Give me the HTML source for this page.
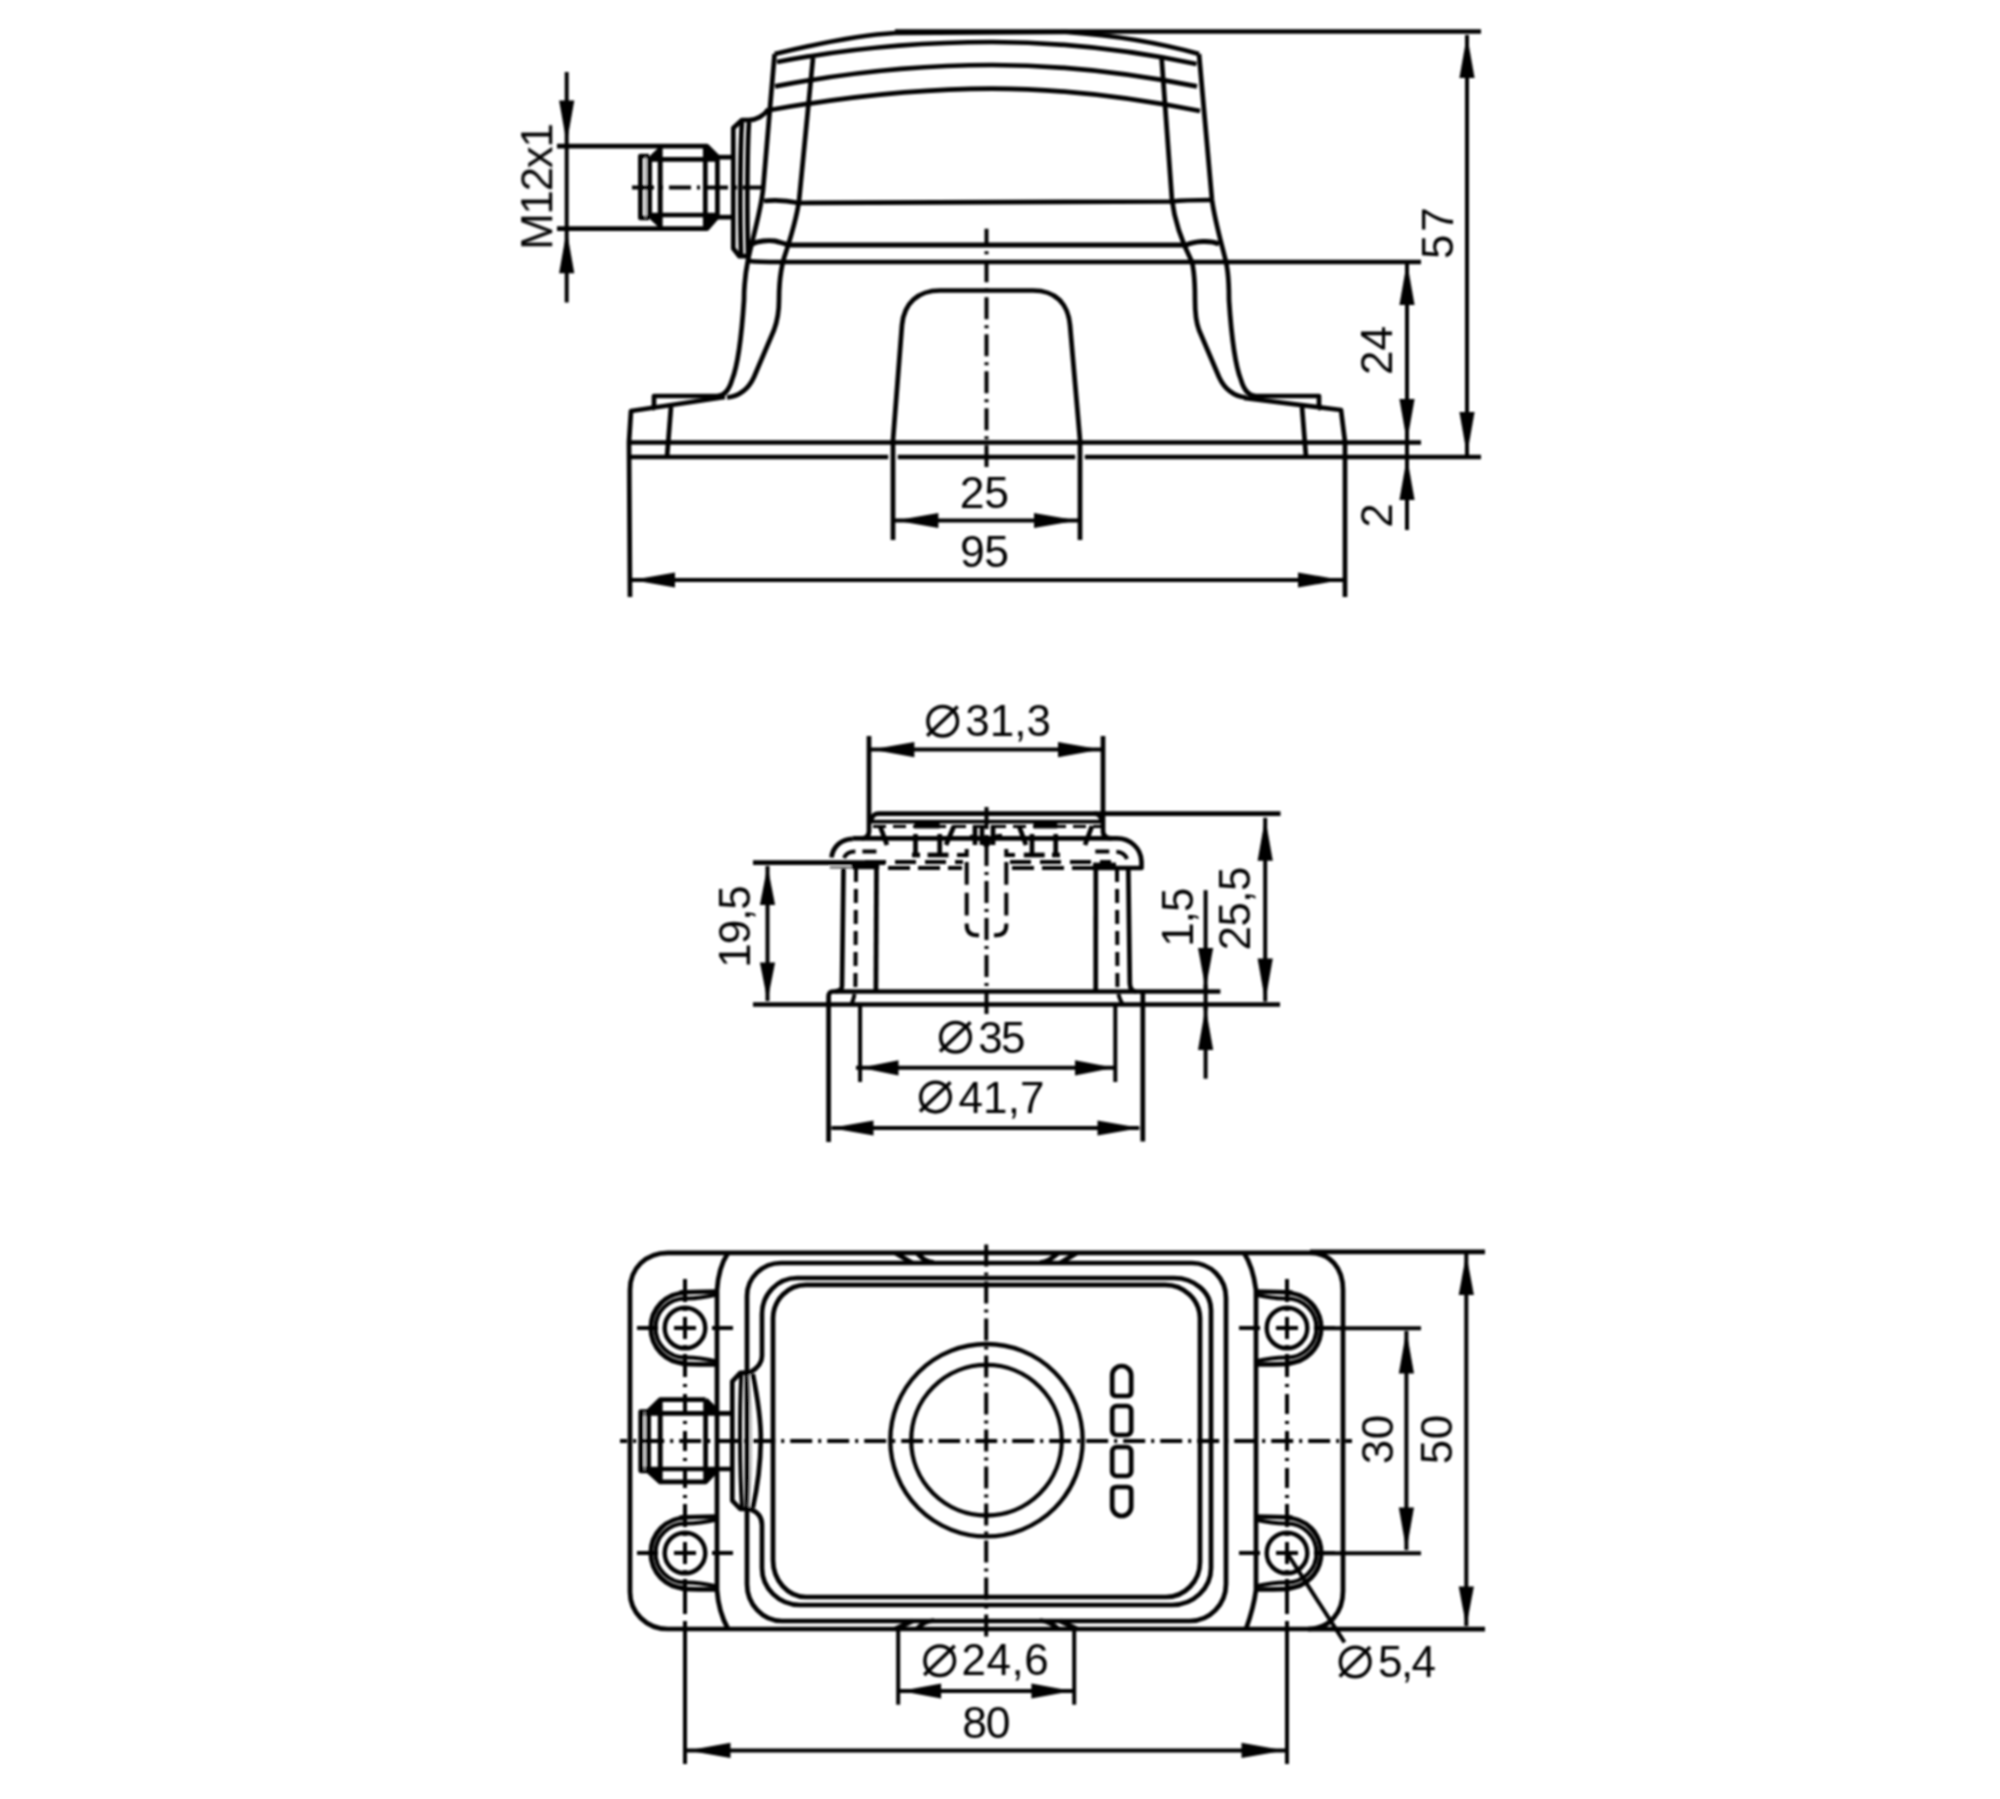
<!DOCTYPE html>
<html><head><meta charset="utf-8"><style>
html,body{margin:0;padding:0;background:#fff;width:2000px;height:1799px;overflow:hidden}
svg{display:block}
.s{stroke:#000;stroke-width:4.7;fill:none;stroke-linecap:butt;stroke-linejoin:round}
.t{stroke:#000;stroke-width:4.0;fill:none}
.th{stroke:#000;stroke-width:4.9;fill:none}
.f{fill:#000;stroke:none}
.cl{stroke:#000;stroke-width:4.0;fill:none;stroke-dasharray:22 6 3 6}
.dh{stroke:#000;stroke-width:4.0;fill:none;stroke-dasharray:14 7}
text{font-family:"Liberation Sans",sans-serif;fill:#000}
</style></head><body>
<svg width="2000" height="1799" viewBox="0 0 2000 1799">
<defs><filter id="bl" x="0" y="0" width="2000" height="1799" filterUnits="userSpaceOnUse"><feGaussianBlur stdDeviation="0.9"/></filter></defs>
<rect width="2000" height="1799" fill="#fff"/>
<g filter="url(#bl)">
<path d="M774.6,54 C 820,43 860,35 895,33 L 1066,32 C 1110,35 1160,43 1199,54" class="s"/>
<line x1="895" y1="31.5" x2="1481" y2="31.5" class="s"/>
<path d="M777,62 C 850,48 920,42 992,42 C 1065,42 1130,50 1196.5,64" class="s"/>
<path d="M775,86.4 C 850,72 920,65 992,65 C 1065,65 1130,73 1197,86.4" class="s"/>
<path d="M770,110 C 850,96 920,88.6 992,88.6 C 1065,88.6 1130,97 1200,111" class="s"/>
<path d="M774.6,54 L 763,190 C 760,215 752,240 748,260 C 745,275 744,290 744,300 C 742,330 738,365 732,380 C 729,390 724,396 717,396" class="s"/>
<path d="M813,58 L 799,201 C 796,222 789,243 784,258 C 780,272 779,285 779,300 C 779,310 777,322 774,330 L 754,377 C 749,388 740,396 727,397.5" class="s"/>
<path d="M1199,54 L 1212,200 C 1215,222 1222,245 1226,262 C 1229,275 1229,290 1229,300 C 1231,330 1235,365 1241,380 C 1244,390 1249,396 1256,396" class="s"/>
<path d="M1161.6,58 L 1172,200 C 1175,225 1185,248 1192,262 C 1195,275 1195,290 1195,300 C 1195,310 1196,322 1199,330 L 1219,377 C 1224,388 1233,396 1246,397.5" class="s"/>
<path d="M764,201 C 772,200 785,200 799,203 L 1172,201.5 C 1185,200 1200,200 1210,200" class="s"/>
<path d="M752,244 C 758,241 768,240 775,241 C 780,242 784,244 790,245 L 1186,245 C 1195,241 1210,240 1219,244" class="th"/>
<path d="M749,261 C 758,262 768,262 780,262 L 1421,262" class="s"/>
<path d="M717,396 L 654,396 L 654,405 L 652,410" class="s"/>
<path d="M725,397 L 631,411 L 629,442 L 630,597" class="s"/>
<line x1="671" y1="407" x2="667" y2="457" class="s"/>
<path d="M1256,396 L 1319,396 L 1319,405 L 1321,410" class="s"/>
<path d="M1244,398 L 1341,410 L 1345,442 L 1345,597" class="s"/>
<line x1="1302" y1="407" x2="1306" y2="457" class="s"/>
<line x1="629" y1="442.5" x2="1421" y2="442.5" class="s"/>
<line x1="629" y1="457" x2="888.2" y2="457" class="s"/>
<line x1="891.3" y1="457" x2="894.7" y2="457" class="s"/>
<line x1="897.8" y1="457" x2="1075.2" y2="457" class="s"/>
<line x1="1078.3" y1="457" x2="1081.7" y2="457" class="s"/>
<line x1="1084.8" y1="457" x2="1481" y2="457" class="s"/>
<path d="M893,540 L 893,440 L 902,325 C 904,303 918,290.5 940,290.5 L 1033,290.5 C 1055,290.5 1068,303 1070,325 L 1080,440 L 1080,540" class="s"/>
<line x1="986.5" y1="228.7" x2="986.5" y2="467" class="cl" style="stroke-dashoffset:5.5"/>
<path d="M557,146.2 L 706.9,146.2 L 717.4,156.7 L 717.4,216.6 L 706.9,228.7 L 557,228.7" class="s"/>
<line x1="660.2" y1="146" x2="660.2" y2="229" class="th"/>
<line x1="705.3" y1="146" x2="705.3" y2="229" class="s"/>
<line x1="649" y1="159.4" x2="717.4" y2="159.4" class="s"/>
<line x1="649" y1="215" x2="717.4" y2="215" class="s"/>
<polygon points="648.6,157 660.2,146 660.2,159.4" class="f"/>
<polygon points="717.4,157 705.3,146 705.3,159.4" class="f"/>
<polygon points="648.6,218 660.2,228.7 660.2,215" class="f"/>
<polygon points="717.4,217 705.3,228.7 705.3,215" class="f"/>
<path d="M649,156 L 640.4,156 L 640.4,218 L 649,218" class="s"/>
<line x1="649.7" y1="157" x2="649.7" y2="218" class="s"/>
<line x1="645.5" y1="157" x2="645.5" y2="218" stroke="#888" stroke-width="1.5"/>
<line x1="717.4" y1="157.2" x2="732.2" y2="157.2" class="s"/>
<line x1="717.4" y1="217.2" x2="732.2" y2="217.2" class="s"/>
<path d="M768.5,109 C 764,116 756,120 749,120 L 742,120 L 733.3,128 L 733.3,248.5 L 739.4,256.2 L 747.6,256.2" class="s"/>
<path d="M742,122 C 740,150 740,220 741,254" class="s"/>
<path d="M749,122 C 747,150 747,220 748,254" class="s"/>
<line x1="632" y1="187.5" x2="766" y2="187.5" class="cl"/>
<line x1="566.7" y1="72" x2="566.7" y2="302.5" class="t"/>
<polygon points="566.7,143.4 559.1,100.4 574.3,100.4" class="f"/>
<polygon points="566.7,230.2 559.1,273.2 574.3,273.2" class="f"/>
<text x="0" y="0" transform="translate(552.20,249.80) rotate(-90)" font-size="44" letter-spacing="-1.35">M12x1</text>
<line x1="1467" y1="35" x2="1467" y2="455" class="t"/>
<polygon points="1467.0,35.0 1459.4,78.0 1474.6,78.0" class="f"/>
<polygon points="1467.0,455.0 1459.4,412.0 1474.6,412.0" class="f"/>
<text x="0" y="0" transform="translate(1453.00,258.90) rotate(-90)" font-size="44" letter-spacing="2.60">57</text>
<line x1="1407" y1="262" x2="1407" y2="442" class="t"/>
<polygon points="1407.0,262.0 1399.4,305.0 1414.6,305.0" class="f"/>
<polygon points="1407.0,442.0 1399.4,399.0 1414.6,399.0" class="f"/>
<text x="0" y="0" transform="translate(1392.10,375.10) rotate(-90)" font-size="44" letter-spacing="0.20">24</text>
<line x1="1407" y1="457" x2="1407" y2="530" class="t"/>
<polygon points="1407.0,457.0 1399.4,500.0 1414.6,500.0" class="f"/>
<text x="0" y="0" transform="translate(1392.10,527.80) rotate(-90)" font-size="44" letter-spacing="0.00">2</text>
<line x1="893" y1="520.5" x2="1080" y2="520.5" class="t"/>
<polygon points="895.4,520.5 938.4,512.9 938.4,528.1" class="f"/>
<polygon points="1077.0,520.5 1034.0,512.9 1034.0,528.1" class="f"/>
<text x="959.80" y="507.60" font-size="44.5" letter-spacing="-0.40">25</text>
<line x1="630" y1="580" x2="1345" y2="580" class="t"/>
<polygon points="632.0,580.0 675.0,572.4 675.0,587.6" class="f"/>
<polygon points="1341.0,580.0 1298.0,572.4 1298.0,587.6" class="f"/>
<text x="959.90" y="567.10" font-size="44.5" letter-spacing="-0.50">95</text>
<line x1="1407" y1="436" x2="1407" y2="462" class="t"/>
<path d="M869,736 L 869,831 C 869,836 866,838.4 861.6,838.4" class="s"/>
<path d="M1103,736 L 1103,831 C 1103,836 1106,838.4 1111.8,838.4" class="s"/>
<line x1="869" y1="749.6" x2="1103" y2="749.6" class="t"/>
<polygon points="871.4,749.6 914.4,742.0 914.4,757.2" class="f"/>
<polygon points="1101.0,749.6 1058.0,742.0 1058.0,757.2" class="f"/>
<circle cx="942.7" cy="721.3" r="14.8" class="t" style="stroke-width:3.5"/>
<line x1="927.2" y1="735.6999999999999" x2="957.7" y2="706.4" class="t" style="stroke-width:3.5"/>
<text x="965.30" y="736.45" font-size="44" letter-spacing="0.00">31,3</text>
<path d="M871,821 C 872,816 874,813.6 879,813.6 L 1094,813.6 C 1099,813.6 1101,816 1101.5,820" class="s"/>
<line x1="1094" y1="813.6" x2="1280.5" y2="813.6" class="s"/>
<line x1="871" y1="821.6" x2="1101.5" y2="821.6" stroke="#000" stroke-width="3.8"/>
<line x1="873" y1="826.4" x2="1101" y2="826.4" stroke="#000" stroke-width="3" stroke-dasharray="13 7"/>
<rect x="914.4" y="820" width="25.2" height="8.5" class="f"/>
<rect x="1033.5" y="820" width="23.8" height="8.5" class="f"/>
<line x1="852.8" y1="838.4" x2="1117" y2="838.4" class="s"/>
<line x1="915.5" y1="834" x2="915.5" y2="855" class="s"/>
<line x1="939.7" y1="834" x2="939.7" y2="855" class="s"/>
<line x1="1032" y1="834" x2="1032" y2="855" class="s"/>
<line x1="1055.7" y1="834" x2="1055.7" y2="855" class="s"/>
<line x1="927.6" y1="855" x2="948.5" y2="855" class="s"/>
<line x1="1023.8" y1="855" x2="1044.7" y2="855" class="s"/>
<line x1="912" y1="855" x2="920" y2="855" class="s"/>
<line x1="1052" y1="855" x2="1060" y2="855" class="s"/>
<line x1="880" y1="826" x2="887" y2="845" class="s"/>
<line x1="954" y1="826" x2="946" y2="845" class="s"/>
<line x1="1019" y1="826" x2="1026" y2="845" class="s"/>
<line x1="1092" y1="826" x2="1085" y2="845" class="s"/>
<line x1="975" y1="825" x2="975" y2="845" class="s"/>
<line x1="982" y1="825" x2="982" y2="845" class="s"/>
<line x1="993" y1="825" x2="993" y2="845" class="s"/>
<path d="M982.6,845 C 988,840 995,836 1002,836" class="s"/>
<path d="M990,845 C 985,840 978,837 970,837" class="s"/>
<path d="M852.8,838.8 C 842,839 833,846 831.5,857.5" class="s"/>
<line x1="829.8" y1="867.5" x2="851.7" y2="867.5" stroke="#888" stroke-width="3"/>
<path d="M1117,838.4 C 1130,838.4 1141,848 1141.5,861.5 L 1141.5,868 L 1093,868" class="s"/>
<rect x="851.7" y="862.6" width="27.5" height="6.6" class="f"/>
<rect x="1093" y="862.6" width="23" height="6.6" class="f"/>
<path d="M844,858 C 846,853 850,851.6 856,851.6 L 883,851.6" class="dh"/>
<path d="M1127,859 C 1125,853 1121,851.6 1115,851.6 L 1090,851.6" class="dh"/>
<line x1="865" y1="862" x2="963" y2="862" stroke="#000" stroke-width="4" stroke-dasharray="21 9"/>
<line x1="888" y1="868" x2="962" y2="868" stroke="#000" stroke-width="4" stroke-dasharray="22 8"/>
<line x1="1010" y1="862" x2="1111" y2="862" stroke="#000" stroke-width="4" stroke-dasharray="21 9"/>
<line x1="1012" y1="868" x2="1093" y2="868" stroke="#000" stroke-width="4" stroke-dasharray="22 8"/>
<path d="M957,855 L 966.7,855 L 966.7,849" class="t"/>
<path d="M1015,855 L 1006.3,855 L 1006.3,849" class="t"/>
<path d="M966.7,862 L 966.7,925 Q 966.7,935.3 977,935.3 L 979,935.3" stroke="#000" stroke-width="4" fill="none" stroke-dasharray="22.7 8"/>
<path d="M1006.3,862 L 1006.3,925 Q 1006.3,935.3 996,935.3 L 994,935.3" stroke="#000" stroke-width="4" fill="none" stroke-dasharray="22.7 8"/>
<path d="M843.5,868 L 842,986.7 C 842,989 839,991.4 835,991.4" class="s"/>
<path d="M856,868 L 855.4,987 C 855,995 853,1000 851.4,1005" class="dh"/>
<line x1="876.5" y1="868" x2="875.9" y2="991.4" class="s"/>
<line x1="1095.8" y1="868" x2="1095.7" y2="991.5" class="s"/>
<path d="M1117,868 L 1117.4,988 C 1118,995 1120,1000 1123,1005" class="dh"/>
<path d="M1128.3,868 L 1129.8,983.5 C 1130,988 1132,991.5 1136.3,991.5" class="s"/>
<path d="M828.6,1142 L 828.6,997 C 828.6,993 830,991.5 833,991.5 L 1220.4,991.5" class="s"/>
<line x1="753" y1="1004.5" x2="1280" y2="1004.5" class="s"/>
<path d="M1142.8,993 L 1142.8,1141.5" class="s"/>
<line x1="986.5" y1="805" x2="986.5" y2="1015" class="cl" style="stroke-dashoffset:35"/>
<line x1="753" y1="862.6" x2="885" y2="862.6" class="s"/>
<line x1="767.5" y1="866" x2="767.5" y2="1001" class="t"/>
<polygon points="767.5,866.0 759.9,905.0 775.1,905.0" class="f"/>
<polygon points="767.5,1001.0 759.9,962.5 775.1,962.5" class="f"/>
<text x="0" y="0" transform="translate(750.20,967.80) rotate(-90)" font-size="44" letter-spacing="-1.00">19,5</text>
<line x1="1265.2" y1="817.7" x2="1265.2" y2="1001.4" class="t"/>
<polygon points="1265.2,817.7 1257.6,860.7 1272.8,860.7" class="f"/>
<polygon points="1265.2,1001.4 1257.6,958.4 1272.8,958.4" class="f"/>
<text x="0" y="0" transform="translate(1250.00,950.40) rotate(-90)" font-size="44" letter-spacing="-0.63">25,5</text>
<line x1="1205.6" y1="890.2" x2="1205.6" y2="989" class="t"/>
<polygon points="1205.6,989.0 1198.0,948.0 1213.2,948.0" class="f"/>
<line x1="1205.6" y1="1007" x2="1205.6" y2="1078.7" class="t"/>
<polygon points="1205.6,1007.0 1198.0,1050.0 1213.2,1050.0" class="f"/>
<text x="0" y="0" transform="translate(1193.20,946.70) rotate(-90)" font-size="44" letter-spacing="-1.00">1,5</text>
<line x1="860.1" y1="1004.5" x2="860.1" y2="1082" class="t"/>
<line x1="1115.3" y1="1004.5" x2="1115.3" y2="1082" class="t"/>
<line x1="856" y1="1067.8" x2="1115.3" y2="1067.8" class="t"/>
<polygon points="860.5,1067.8 898.5,1060.2 898.5,1075.4" class="f"/>
<polygon points="1114.0,1067.8 1075.0,1060.2 1075.0,1075.4" class="f"/>
<circle cx="955.5" cy="1037.2" r="14.8" class="t" style="stroke-width:3.5"/>
<line x1="940.0" y1="1051.6000000000001" x2="970.5" y2="1022.3000000000001" class="t" style="stroke-width:3.5"/>
<text x="978.20" y="1053.45" font-size="44" letter-spacing="-1.60">35</text>
<line x1="831.5" y1="1128" x2="1139.2" y2="1128" class="t"/>
<polygon points="830.5,1128.0 873.5,1120.4 873.5,1135.6" class="f"/>
<polygon points="1140.5,1128.0 1097.5,1120.4 1097.5,1135.6" class="f"/>
<circle cx="935.5" cy="1097.1" r="14.8" class="t" style="stroke-width:3.5"/>
<line x1="920.0" y1="1111.5" x2="950.5" y2="1082.1999999999998" class="t" style="stroke-width:3.5"/>
<text x="958.50" y="1112.50" font-size="44" letter-spacing="0.13">41,7</text>
<line x1="1205.6" y1="985" x2="1205.6" y2="1010" class="t"/>
<path d="M668,1252.8 L 1310,1252.8 C 1330,1252.8 1343,1268 1343,1290 L 1343,1591 C 1343,1612 1330,1629 1308,1629 L 668,1629 C 646,1629 630,1612 630,1592 L 630,1290 C 630,1268 646,1252.8 668,1252.8" class="s"/>
<line x1="1310" y1="1251.8" x2="1485" y2="1251.8" class="s"/>
<line x1="1308" y1="1629.2" x2="1485" y2="1629.2" class="s"/>
<path d="M728,1253 C 722,1262 718,1275 717,1290 L 717,1590 C 718,1605 722,1618 728,1629" class="s"/>
<path d="M1244,1253 C 1250,1262 1254,1275 1256,1290 L 1256,1590 C 1254,1605 1250,1618 1246,1629" class="s"/>
<path d="M781,1263 L 1192,1263 A 34,35 0 0 1 1226,1298 L 1226,1584 A 36,37 0 0 1 1190,1621 L 782,1621 A 35,37 0 0 1 747,1584 L 747,1296 A 34,33 0 0 1 781,1263" class="s"/>
<path d="M750,1372.5 C 758,1368 762,1362 762,1356 L 762,1314 A 35,36 0 0 1 797,1278 L 1174,1278 A 37,32 0 0 1 1211,1310 L 1211,1568 A 39,37 0 0 1 1172,1605 L 800,1605 A 38,37 0 0 1 762,1568 L 762,1525 C 762,1518 758,1512 750,1509" class="s"/>
<path d="M806,1284.8 L 1165,1284.8 A 35,34 0 0 1 1200,1318 L 1200,1562 A 34,35 0 0 1 1166,1597 L 806,1597 A 33,37 0 0 1 773,1560 L 773,1318 A 33,34 0 0 1 806,1284.8" class="s"/>
<path d="M895.3,1253 L 912.5,1263" class="s"/>
<path d="M917,1253 C 922,1258 926,1262 934,1262.5" class="s"/>
<path d="M1040,1262.5 C 1048,1262 1052,1258 1058.6,1253" class="s"/>
<path d="M1077,1253 L 1060,1263" class="s"/>
<path d="M895.3,1629 L 912.5,1621" class="s"/>
<path d="M917,1629 C 922,1624 926,1621 934,1620.5" class="s"/>
<path d="M1040,1620.5 C 1048,1621 1052,1624 1058.6,1629" class="s"/>
<path d="M1077,1629 L 1060,1621" class="s"/>
<path d="M717,1291.5 C 673,1292 679,1293 685,1293 A 34.2,35 0 0 0 685,1363 C 679,1363 673,1364 717,1364.5" class="s"/>
<path d="M717,1294.5 C 697,1299 691,1298.5 685,1298.5 A 29.5,29.5 0 0 0 685,1357.5 C 691,1357.5 697,1357 717,1361.5" class="t"/>
<circle cx="685" cy="1328" r="20.3" class="s" style="stroke-width:4.4"/>
<ellipse cx="685" cy="1308.5" rx="4" ry="2.5" class="f"/>
<ellipse cx="685" cy="1347.5" rx="4" ry="2.5" class="f"/>
<line x1="674" y1="1328" x2="696" y2="1328" class="t"/>
<line x1="685" y1="1317" x2="685" y2="1339" class="t"/>
<line x1="637" y1="1328" x2="658" y2="1328" class="t"/>
<line x1="712" y1="1328" x2="733" y2="1328" class="t"/>
<line x1="685" y1="1279" x2="685" y2="1302" class="t"/>
<line x1="685" y1="1354" x2="685" y2="1377" class="t"/>
<path d="M717,1516.5 C 673,1517 679,1518 685,1518 A 34.2,35 0 0 0 685,1588 C 679,1588 673,1589 717,1589.5" class="s"/>
<path d="M717,1519.5 C 697,1524 691,1523.5 685,1523.5 A 29.5,29.5 0 0 0 685,1582.5 C 691,1582.5 697,1582 717,1586.5" class="t"/>
<circle cx="685" cy="1553" r="20.3" class="s" style="stroke-width:4.4"/>
<ellipse cx="685" cy="1533.5" rx="4" ry="2.5" class="f"/>
<ellipse cx="685" cy="1572.5" rx="4" ry="2.5" class="f"/>
<line x1="674" y1="1553" x2="696" y2="1553" class="t"/>
<line x1="685" y1="1542" x2="685" y2="1564" class="t"/>
<line x1="637" y1="1553" x2="658" y2="1553" class="t"/>
<line x1="712" y1="1553" x2="733" y2="1553" class="t"/>
<line x1="685" y1="1504" x2="685" y2="1527" class="t"/>
<line x1="685" y1="1579" x2="685" y2="1602" class="t"/>
<path d="M1255,1291.5 C 1299,1292 1293,1293 1287,1293 A 34.2,35 0 0 1 1287,1363 C 1293,1363 1299,1364 1255,1364.5" class="s"/>
<path d="M1255,1294.5 C 1275,1299 1281,1298.5 1287,1298.5 A 29.5,29.5 0 0 1 1287,1357.5 C 1281,1357.5 1275,1357 1255,1361.5" class="t"/>
<circle cx="1287" cy="1328" r="20.3" class="s" style="stroke-width:4.4"/>
<ellipse cx="1287" cy="1308.5" rx="4" ry="2.5" class="f"/>
<ellipse cx="1287" cy="1347.5" rx="4" ry="2.5" class="f"/>
<line x1="1276" y1="1328" x2="1298" y2="1328" class="t"/>
<line x1="1287" y1="1317" x2="1287" y2="1339" class="t"/>
<line x1="1239" y1="1328" x2="1260" y2="1328" class="t"/>
<line x1="1314" y1="1328" x2="1335" y2="1328" class="t"/>
<line x1="1287" y1="1279" x2="1287" y2="1302" class="t"/>
<line x1="1287" y1="1354" x2="1287" y2="1377" class="t"/>
<path d="M1255,1516.5 C 1299,1517 1293,1518 1287,1518 A 34.2,35 0 0 1 1287,1588 C 1293,1588 1299,1589 1255,1589.5" class="s"/>
<path d="M1255,1519.5 C 1275,1524 1281,1523.5 1287,1523.5 A 29.5,29.5 0 0 1 1287,1582.5 C 1281,1582.5 1275,1582 1255,1586.5" class="t"/>
<circle cx="1287" cy="1553" r="20.3" class="s" style="stroke-width:4.4"/>
<ellipse cx="1287" cy="1533.5" rx="4" ry="2.5" class="f"/>
<ellipse cx="1287" cy="1572.5" rx="4" ry="2.5" class="f"/>
<line x1="1276" y1="1553" x2="1298" y2="1553" class="t"/>
<line x1="1287" y1="1542" x2="1287" y2="1564" class="t"/>
<line x1="1239" y1="1553" x2="1260" y2="1553" class="t"/>
<line x1="1314" y1="1553" x2="1335" y2="1553" class="t"/>
<line x1="1287" y1="1504" x2="1287" y2="1527" class="t"/>
<line x1="1287" y1="1579" x2="1287" y2="1602" class="t"/>
<line x1="685" y1="1384" x2="685" y2="1500" stroke="#000" stroke-width="4" stroke-dasharray="3 7 20 7"/>
<line x1="1287" y1="1384" x2="1287" y2="1500" stroke="#000" stroke-width="4" stroke-dasharray="3 7 20 7"/>
<line x1="685" y1="1584" x2="685" y2="1622" stroke="#000" stroke-width="4" stroke-dasharray="3 7 20 7"/>
<line x1="1287" y1="1584" x2="1287" y2="1622" stroke="#000" stroke-width="4" stroke-dasharray="3 7 20 7"/>
<line x1="685" y1="1622" x2="685" y2="1764" class="t"/>
<line x1="1287" y1="1622" x2="1287" y2="1764" class="t"/>
<path d="M705.6,1399.6 L 660.2,1399.6 L 647.8,1411.6 L 640.7,1411.6 L 640.7,1470.8 L 647.8,1470.8 L 660.2,1481.9 L 705.6,1481.9 L 716,1471" class="s"/>
<line x1="705.6" y1="1399.6" x2="716" y2="1410" class="s"/>
<line x1="660.2" y1="1399.6" x2="660.2" y2="1481.9" class="th"/>
<line x1="705.6" y1="1399.6" x2="705.6" y2="1481.9" class="s"/>
<line x1="641.6" y1="1413.4" x2="731.4" y2="1413.4" class="s"/>
<line x1="641.6" y1="1469" x2="731.4" y2="1469" class="s"/>
<line x1="648.7" y1="1411.6" x2="648.7" y2="1470.8" class="s"/>
<line x1="644.7" y1="1412" x2="644.7" y2="1470" stroke="#999" stroke-width="1.5"/>
<polygon points="647.8,1411.6 660.2,1399.6 660.2,1413.4" class="f"/>
<polygon points="647.8,1470.8 660.2,1481.9 660.2,1469" class="f"/>
<polygon points="716,1410 705.6,1399.6 705.6,1413.4" class="f"/>
<polygon points="716,1471 705.6,1481.9 705.6,1469" class="f"/>
<path d="M750,1372.5 L 740.3,1372.9 L 732.3,1381.4 L 732.3,1500.6 L 740.3,1509 L 750,1509" class="s"/>
<path d="M741.2,1375 C 739.5,1410 739.5,1470 742,1507" class="t"/>
<path d="M752.8,1374 C 758,1400 761,1425 760.8,1440 C 760.5,1460 758,1485 752.8,1507.7" class="s"/>
<path d="M749,1375 C 752,1410 752,1470 749,1507" stroke="#aaa" stroke-width="1.5" fill="none"/>
<line x1="620" y1="1441" x2="1352" y2="1441" class="cl" style="stroke-dashoffset:14.8"/>
<line x1="986.2" y1="1238.6" x2="986.2" y2="1639.3" class="cl" style="stroke-dashoffset:31.2"/>
<circle cx="986.5" cy="1440.2" r="96.2" class="s" style="stroke-width:4.3"/>
<circle cx="986.5" cy="1440.2" r="75.3" class="s" style="stroke-width:4.3"/>
<path d="M1112.2,1375.5 A 9.5,9.5 0 0 1 1131.2,1375.5 L 1131.2,1392 Q 1131.2,1396 1127,1396 L 1116.5,1396 Q 1112.2,1396 1112.2,1392 Z" class="s"/>
<rect x="1112.2" y="1406" width="19" height="29" rx="4.5" class="s"/>
<rect x="1112.2" y="1447" width="19" height="29" rx="4.5" class="s"/>
<path d="M1112.2,1506.5 A 9.5,9.5 0 0 0 1131.2,1506.5 L 1131.2,1491 Q 1131.2,1487 1127,1487 L 1116.5,1487 Q 1112.2,1487 1112.2,1491 Z" class="s"/>
<line x1="1323" y1="1328.2" x2="1421" y2="1328.2" class="t"/>
<line x1="1323" y1="1553.2" x2="1421" y2="1553.2" class="t"/>
<line x1="1406.4" y1="1331" x2="1406.4" y2="1550" class="t"/>
<polygon points="1406.4,1330.5 1398.8,1373.5 1414.0,1373.5" class="f"/>
<polygon points="1406.4,1550.5 1398.8,1507.5 1414.0,1507.5" class="f"/>
<text x="0" y="0" transform="translate(1392.90,1464.20) rotate(-90)" font-size="44" letter-spacing="0.50">30</text>
<line x1="1466.3" y1="1254" x2="1466.3" y2="1626" class="t"/>
<polygon points="1466.3,1254.0 1458.7,1295.0 1473.9,1295.0" class="f"/>
<polygon points="1466.3,1626.5 1458.7,1586.5 1473.9,1586.5" class="f"/>
<text x="0" y="0" transform="translate(1451.70,1464.30) rotate(-90)" font-size="44" letter-spacing="0.60">50</text>
<line x1="898.2" y1="1629" x2="898.2" y2="1704.7" class="t"/>
<line x1="1074.2" y1="1629" x2="1074.2" y2="1704.7" class="t"/>
<line x1="898.2" y1="1691" x2="1074.2" y2="1691" class="t"/>
<polygon points="900.5,1691.0 941.1,1683.4 941.1,1698.6" class="f"/>
<polygon points="1072.0,1691.0 1031.4,1683.4 1031.4,1698.6" class="f"/>
<circle cx="939.7" cy="1660.7" r="14.8" class="t" style="stroke-width:3.5"/>
<line x1="924.2" y1="1675.1000000000001" x2="954.7" y2="1645.8" class="t" style="stroke-width:3.5"/>
<text x="961.40" y="1675.45" font-size="44" letter-spacing="0.53">24,6</text>
<line x1="685" y1="1750.4" x2="1287" y2="1750.4" class="t"/>
<polygon points="687.5,1750.4 730.5,1742.8 730.5,1758.0" class="f"/>
<polygon points="1284.5,1750.4 1241.5,1742.8 1241.5,1758.0" class="f"/>
<text x="962.30" y="1737.50" font-size="44.5" letter-spacing="-1.30">80</text>
<line x1="1287" y1="1553" x2="1344.5" y2="1642.4" class="t"/>
<circle cx="1355.2" cy="1662" r="14.8" class="t" style="stroke-width:3.5"/>
<line x1="1339.7" y1="1676.4" x2="1370.2" y2="1647.1" class="t" style="stroke-width:3.5"/>
<text x="1378.05" y="1677.30" font-size="44" letter-spacing="-1.57">5,4</text>
</g>
</svg></body></html>
